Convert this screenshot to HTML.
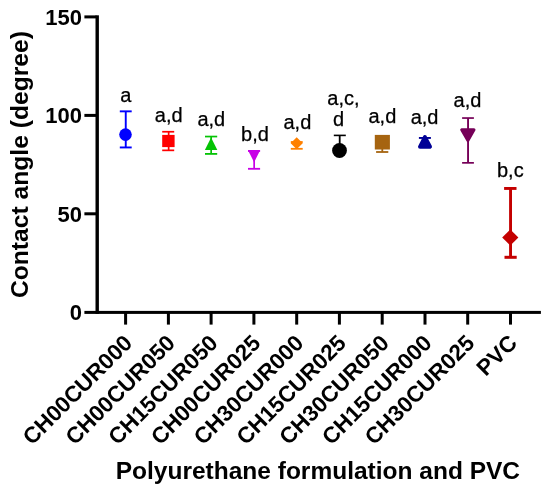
<!DOCTYPE html>
<html><head><meta charset="utf-8">
<style>
html,body{margin:0;padding:0;background:#fff;}
body{width:550px;height:491px;overflow:hidden;}
svg{display:block;}
.tl{font-family:"Liberation Sans",Arial,sans-serif;font-weight:bold;font-size:22px;fill:#000;}
.ann{font-family:"Liberation Sans",Arial,sans-serif;font-size:20px;fill:#000;stroke:#000;stroke-width:0.25px;}
.ttl{font-family:"Liberation Sans",Arial,sans-serif;font-weight:bold;font-size:24.5px;fill:#000;}
.xl{font-family:"Liberation Sans",Arial,sans-serif;font-weight:bold;font-size:22.5px;fill:#000;}
</style></head>
<body>
<svg width="550" height="491" viewBox="0 0 550 491" xmlns="http://www.w3.org/2000/svg">
<!-- axes -->
<g fill="#000">
<rect x="95.5" y="15.3" width="3.4" height="298.5"/>
<rect x="84.4" y="310.9" width="456.5" height="3"/>
<rect x="84.4" y="15.4" width="12" height="3"/>
<rect x="84.4" y="113.9" width="12" height="3"/>
<rect x="84.4" y="212.3" width="12" height="3"/>
<rect x="124.1" y="312" width="3" height="12.6"/>
<rect x="166.9" y="312" width="3" height="12.6"/>
<rect x="209.6" y="312" width="3" height="12.6"/>
<rect x="252.4" y="312" width="3" height="12.6"/>
<rect x="295.2" y="312" width="3" height="12.6"/>
<rect x="337.9" y="312" width="3" height="12.6"/>
<rect x="380.7" y="312" width="3" height="12.6"/>
<rect x="423.5" y="312" width="3" height="12.6"/>
<rect x="466.2" y="312" width="3" height="12.6"/>
<rect x="509" y="312" width="3" height="12.6"/>
</g>
<!-- y tick labels -->
<text class="tl" text-anchor="end" x="82" y="24.8">150</text>
<text class="tl" text-anchor="end" x="82" y="123">100</text>
<text class="tl" text-anchor="end" x="82" y="221.8">50</text>
<text class="tl" text-anchor="end" x="82" y="320.3">0</text>
<!-- axis titles -->
<text class="ttl" text-anchor="middle" style="font-size:24.65px" transform="translate(27.7,164.6) rotate(-90)">Contact angle (degree)</text>
<text class="ttl" text-anchor="middle" x="317.9" y="479">Polyurethane formulation and PVC</text>
<!-- x labels -->
<g class="xl" text-anchor="end">
<text transform="translate(133.65,344.35) rotate(-45)">CH00CUR000</text>
<text transform="translate(176.45,344.35) rotate(-45)">CH00CUR050</text>
<text transform="translate(219.15,344.35) rotate(-45)">CH15CUR050</text>
<text transform="translate(261.95,344.35) rotate(-45)">CH00CUR025</text>
<text transform="translate(304.75,344.35) rotate(-45)">CH30CUR000</text>
<text transform="translate(347.45,344.35) rotate(-45)">CH15CUR025</text>
<text transform="translate(390.25,344.35) rotate(-45)">CH30CUR050</text>
<text transform="translate(433.05,344.35) rotate(-45)">CH15CUR000</text>
<text transform="translate(475.75,344.35) rotate(-45)">CH30CUR025</text>
<text transform="translate(518.55,344.35) rotate(-45)">PVC</text>
</g>
<!-- annotations -->
<g class="ann" text-anchor="middle">
<text x="125.9" y="102.3">a</text>
<text x="168.7" y="122">a,d</text>
<text x="211.3" y="126">a,d</text>
<text x="255" y="141.2">b,d</text>
<text x="297.4" y="128.9">a,d</text>
<text x="343.4" y="105.1">a,c,</text>
<text x="338.6" y="126.1">d</text>
<text x="382.4" y="122.7">a,d</text>
<text x="424.6" y="123.6">a,d</text>
<text x="467.5" y="106.8">a,d</text>
<text x="510.3" y="176.6">b,c</text>
</g>
<!-- data -->
<!-- 1 blue circle -->
<g fill="#0000ff">
<rect x="119.8" y="110.4" width="11.9" height="1.9"/>
<rect x="124.8" y="111" width="1.9" height="36"/>
<rect x="119.8" y="146.5" width="11.9" height="1.9"/>
<circle cx="125.5" cy="134.6" r="6.3"/>
</g>
<!-- 2 red square -->
<g fill="#ff0000">
<rect x="162.2" y="130.9" width="12" height="1.7"/>
<rect x="167.8" y="131" width="1.7" height="20"/>
<rect x="162.2" y="149.5" width="12" height="1.7"/>
<rect x="162.2" y="134.9" width="12.4" height="12.2"/>
</g>
<!-- 3 green triangle up -->
<g fill="#05c305">
<rect x="205" y="135.7" width="12.2" height="1.7"/>
<rect x="210.3" y="136" width="1.7" height="18"/>
<rect x="205" y="153" width="12.2" height="1.8"/>
<polygon points="211.1,137.4 217.3,149.9 204.9,149.9"/>
</g>
<!-- 4 magenta triangle down -->
<g fill="#c800e6">
<rect x="248" y="167.9" width="12.1" height="1.8"/>
<rect x="253.3" y="150" width="1.7" height="19"/>
<rect x="248" y="150" width="12.1" height="1.9"/>
<polygon points="248,150.2 260.1,150.2 254.1,162.2"/>
</g>
<!-- 5 orange diamond -->
<g fill="#ff8000">
<polygon points="296.7,137.3 302.7,143.3 296.7,149.3 290.7,143.3"/>
<rect x="290.8" y="141.1" width="11.9" height="2"/>
<rect x="295.9" y="143" width="1.7" height="6"/>
<rect x="290.8" y="147.9" width="11.9" height="1.8"/>
</g>
<!-- 6 black circle -->
<g fill="#000">
<rect x="333.8" y="134.6" width="12" height="1.6"/>
<rect x="338.8" y="135" width="1.8" height="10"/>
<circle cx="339.5" cy="150.5" r="7.4"/>
</g>
<!-- 7 brown square -->
<g fill="#a66410">
<rect x="374.8" y="134.9" width="15.1" height="14.6"/>
<rect x="381.4" y="149" width="1.8" height="3"/>
<rect x="376.1" y="151.1" width="12.2" height="1.8"/>
</g>
<!-- 8 navy triangle up rounded -->
<g fill="#000096">
<path d="M424.9,137.1 L430,146.8 L420,146.8 Z" stroke="#000096" stroke-width="4" stroke-linejoin="round"/>
<rect x="418.9" y="137" width="12" height="1.9"/>
</g>
<!-- 9 purple triangle down -->
<g fill="#760058">
<rect x="462.1" y="117.2" width="11.8" height="1.7"/>
<rect x="467.1" y="118" width="1.9" height="45"/>
<rect x="462.1" y="162" width="11.8" height="1.7"/>
<path d="M461.7,129.8 L474,129.8 L467.9,140.6 Z" stroke="#760058" stroke-width="3" stroke-linejoin="round"/>
</g>
<!-- 10 PVC dark red diamond -->
<g fill="#c40000">
<rect x="504.1" y="187" width="12.4" height="2.9"/>
<rect x="509.1" y="188" width="2.9" height="69"/>
<rect x="504.5" y="255.8" width="12.2" height="3"/>
<polygon points="510.3,229.4 518.4,237.5 510.3,245.6 502.2,237.5"/>
</g>
</svg>
</body></html>
